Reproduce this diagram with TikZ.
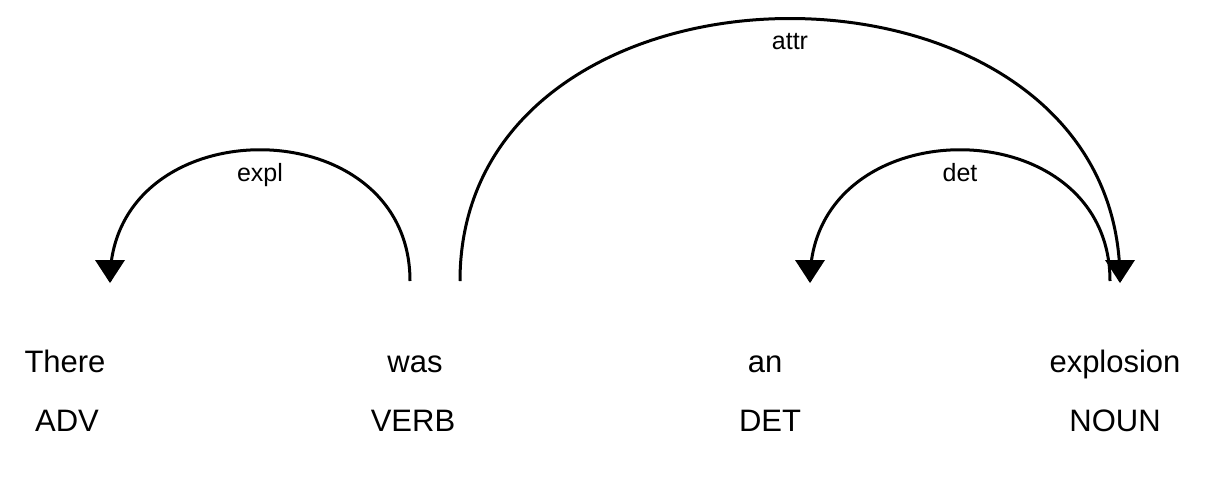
\documentclass[tikz,border=0pt]{standalone}
\usepackage{fontspec}
\setmainfont{Liberation Sans}
\begin{document}
\begin{tikzpicture}[x=1pt,y=-1pt,
  word/.style={anchor=base,inner sep=0pt,font=\fontsize{31}{36}\selectfont},
  lab/.style={anchor=base,inner sep=0pt,font=\fontsize{25}{30}\selectfont},
  arc/.style={line width=3pt,black},
  head/.style={fill=black,draw=none}]
\useasboundingbox (0,0) rectangle (1216,480);
% words
\node[word] (w0) at (65,372) {There};
\node[word] (w1) at (415,372) {was};
\node[word] (w2) at (765,372) {an};
\node[word] (w3) at (1115,372) {explosion};
\node[word] (t0) at (67,431) {ADV};
\node[word] (t1) at (413,431) {VERB};
\node[word] (t2) at (770,431) {DET};
\node[word] (t3) at (1115,431) {NOUN};
% arc anchor coordinates
\coordinate (a1s) at (410,281);
\coordinate (a1e) at (110,281);
\coordinate (a2s) at (1110,281);
\coordinate (a2e) at (810,281);
\coordinate (a3s) at (460,281);
\coordinate (a3e) at (1120,281);
% arcs
\draw[arc] (a1s) .. controls (410,106) and (110,106) .. (a1e);
\draw[arc] (a2s) .. controls (1110,106) and (810,106) .. (a2e);
\draw[arc] (a3s) .. controls (460,-69) and (1120,-69) .. (a3e);
% arrowheads
\fill[head] (110,283) -- (95,260) -- (125,260) -- cycle;
\fill[head] (810,283) -- (795,260) -- (825,260) -- cycle;
\fill[head] (1120,283) -- (1105,260) -- (1135,260) -- cycle;
% labels
\node[lab] (l1) at (260,181) {expl};
\node[lab] (l2) at (960,181) {det};
\node[lab] (l3) at (790,49) {attr};
\end{tikzpicture}
\end{document}
